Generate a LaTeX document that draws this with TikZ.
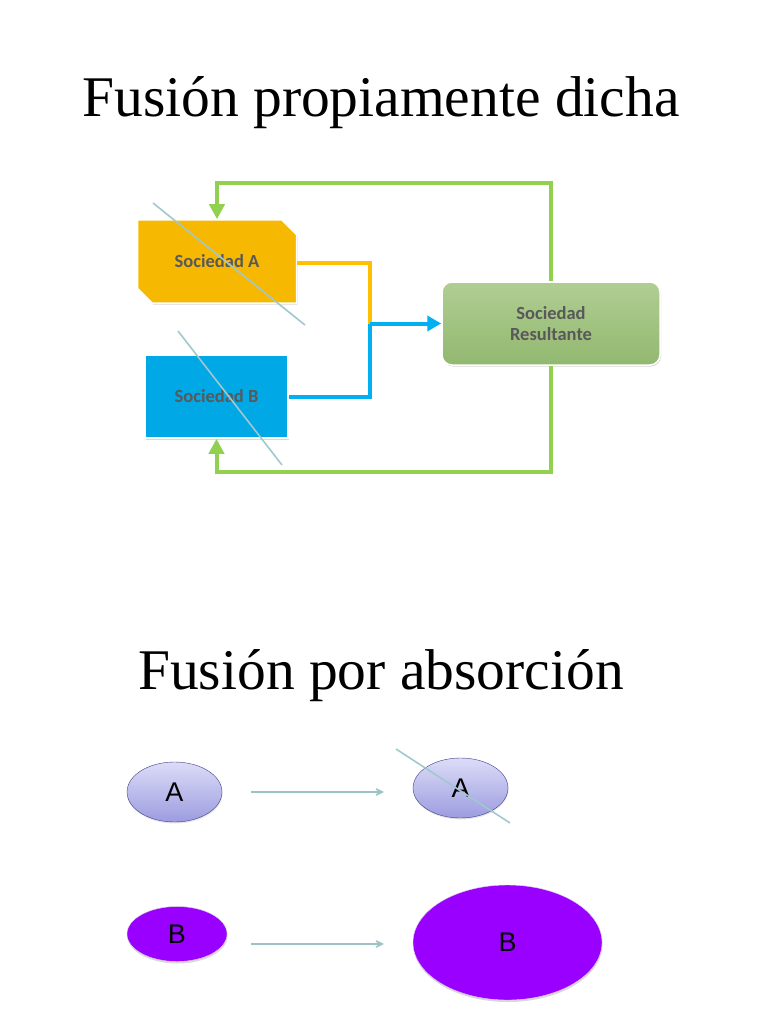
\documentclass[tikz,border=0pt]{standalone}
\usepackage{fontspec}
\setmainfont{Liberation Serif}
\newfontfamily\boxfont{Carlito}
\newfontfamily\ovalfont{Liberation Sans}
\usetikzlibrary{arrows.meta,positioning,shapes.geometric,shapes.misc,shadows}
\definecolor{socA}{RGB}{246,184,0}
\definecolor{socB}{RGB}{0,168,230}
\definecolor{lineA}{RGB}{255,192,0}
\definecolor{lineB}{RGB}{0,176,240}
\definecolor{back}{RGB}{146,208,80}
\definecolor{resTop}{RGB}{176,206,146}
\definecolor{resBot}{RGB}{146,184,112}
\definecolor{strike}{RGB}{160,200,205}
\definecolor{lavTop}{RGB}{220,220,248}
\definecolor{lavBot}{RGB}{156,156,224}
\definecolor{lavLine}{RGB}{60,60,140}
\definecolor{purp}{RGB}{153,0,255}
\tikzset{
  title/.style={font=\fontsize{57.5}{60}\selectfont,anchor=base},
  socbox/.style={rectangle,draw=white,line width=1.5pt,align=center,
    font=\boxfont\bfseries\fontsize{18.5}{21}\selectfont,text=black!65,
    drop shadow={shadow xshift=1pt,shadow yshift=-1.5pt,fill=black!30}},
  boxA/.style={socbox,chamfered rectangle,
    chamfered rectangle corners={north east,south west},
    chamfered rectangle xsep=8pt,chamfered rectangle ysep=8pt,
    fill=socA,minimum width=159pt,minimum height=83pt,inner sep=0pt},
  boxB/.style={socbox,fill=socB,minimum width=143pt,minimum height=83pt},
  boxR/.style={socbox,rounded corners=10pt,top color=resTop,bottom color=resBot,
    minimum width=218pt,minimum height=83pt},
  % flow lines of the first diagram
  feed/.style={line width=4pt},
  ret/.style={line width=4pt,draw=back,-{Triangle[length=15pt,width=15pt]}},
  cross/.style={draw=strike,line width=1.6pt},
  % ovals of the second diagram
  ovA/.style={ellipse,draw=lavLine,thin,top color=lavTop,bottom color=lavBot,
    font=\ovalfont\fontsize{27}{29}\selectfont,inner sep=0pt,
    drop shadow={shadow xshift=0.5pt,shadow yshift=-1.5pt,fill=black!20}},
  ovB/.style={ellipse,fill=purp,draw=black!15,thin,
    font=\ovalfont\fontsize{27}{29}\selectfont,inner sep=0pt,
    drop shadow={shadow xshift=0.5pt,shadow yshift=-2pt,fill=black!30}},
  flow/.style={draw=strike!90!gray,line width=1.6pt,-{Straight Barb[length=6pt,width=6pt]}}
}

\begin{document}
\begin{tikzpicture}[x=1pt,y=-1pt]
  \useasboundingbox (0,0) rectangle (768,1024);

  % Fusion propiamente dicha
  \node[title] (t1) at (381,117) {Fusión propiamente dicha};
  \node[boxA] (a) at (217,261.5) {Sociedad A};
  \node[boxB] (b) at (216.5,396.5) {Sociedad B};
  \node[boxR] (r) at (551,323.5) {Sociedad\\Resultante};
  \coordinate (j) at (370,323.5);
  \draw[feed,draw=lineA] (a.east |- 0,263) -| (j);
  \draw[feed,draw=lineB] (b.east |- 0,397) -| (j);
  \draw[feed,draw=lineB,-{Triangle[length=14pt,width=15pt]}] (j) -- (r.west);
  \draw[ret] (r.north) -- (r.north |- 0,183) -| (a.north);
  \draw[ret] (r.south) -- (r.south |- 0,472) -| (b.south);
  \draw[cross] (153,203) -- (305,325);
  \draw[cross] (178,331) -- (282,465);

  % Fusion por absorcion
  \node[title] (t2) at (381,689) {Fusión por absorción};
  \node[ovA,minimum width=95pt,minimum height=60pt] (a1) at (174.5,792) {A};
  \node[ovA,minimum width=95pt,minimum height=60pt] (a2) at (460.5,788) {A};
  \node[ovB,minimum width=100pt,minimum height=55pt] (b1) at (177,934) {B};
  \node[ovB,minimum width=189pt,minimum height=115pt] (b2) at (507.5,942.5) {B};
  \draw[flow,shorten <=29pt,shorten >=29pt] (a1.east) -- (a1.east -| a2.west);
  \draw[flow,shorten <=24pt,shorten >=29pt] (b1.east |- 0,944) -- (b2.west |- 0,944);
  \draw[cross] (396,749) -- (510,823);
\end{tikzpicture}
\end{document}
